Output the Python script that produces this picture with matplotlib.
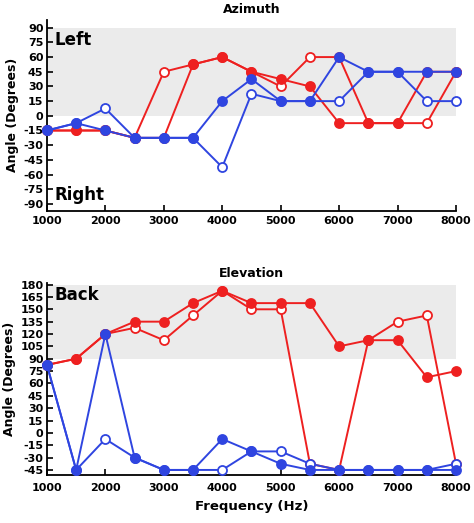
import numpy as np
import matplotlib.pyplot as plt

plt.rcParams['axes.unicode_minus'] = False

# frequencies (Hz)
freq = np.arange(1000, 8001, 500)

# azimuth responses (degrees)
az_red_filled = [-15, -15, -15, -22.5, -22.5, 52.5, 60, 45, 37.5, 30, -7.5, -7.5, -7.5, 45, 45]
az_red_open = [-15, -15, -15, -22.5, 45, 52.5, 60, 45, 30, 60, 60, -7.5, -7.5, -7.5, 45]
az_blue_filled = [-15, -7.5, -15, -22.5, -22.5, -22.5, 15, 37.5, 15, 15, 60, 45, 45, 45, 45]
az_blue_open = [-15, -7.5, 7.5, -22.5, -22.5, -22.5, -52.5, 22.5, 15, 15, 15, 45, 45, 15, 15]

# elevation responses (degrees)
el_red_filled = [82.5, 90, 120, 135, 135, 157.5, 172.5, 157.5, 157.5, 157.5, 105, 112.5, 112.5, 67.5, 75]
el_red_open = [82.5, 90, 120, 127.5, 112.5, 142.5, 172.5, 150, 150, -37.5, -45, 112.5, 135, 142.5, -37.5]
el_blue_filled = [82.5, -45, 120, -30, -45, -45, -7.5, -22.5, -37.5, -45, -45, -45, -45, -45, -45]
el_blue_open = [82.5, -45, -7.5, -30, -45, -45, -45, -22.5, -22.5, -37.5, -45, -45, -45, -45, -37.5]

red = '#ee2020'
blue = '#2f45e0'
shade = '#ebebeb'

fig = plt.figure(figsize=(4.74, 5.23), dpi=100)
ax1 = fig.add_axes([0.099, 0.597, 0.863, 0.365])
ax2 = fig.add_axes([0.099, 0.092, 0.863, 0.367])


def draw(ax, series):
    for vals, col, filled in series:
        ax.plot(freq, vals, color=col, lw=1.4, marker='o', ms=6.5,
                mfc=col if filled else 'white', mec=col, mew=1.3, clip_on=False, zorder=3)


def style(ax, yticks, ylim, xpad):
    ax.set_xlim(1000, 8000)
    ax.set_ylim(*ylim)
    ax.set_yticks(yticks)
    ax.set_xticks(range(1000, 8001, 1000))
    for s in ['top', 'right']:
        ax.spines[s].set_visible(False)
    for s in ['left', 'bottom']:
        ax.spines[s].set_linewidth(1.3)
    ax.tick_params(direction='in', length=4, width=1.2, labelsize=8, pad=2.5)
    ax.tick_params(axis='x', pad=xpad)
    for lab in ax.get_xticklabels() + ax.get_yticklabels():
        lab.set_fontweight('bold')
    ax.set_ylabel('Angle (Degrees)', fontsize=9, fontweight='bold', labelpad=3)


# Azimuth
ax1.axhspan(0, 90, color=shade, zorder=0, lw=0)
draw(ax1, [(az_red_open, red, False), (az_red_filled, red, True),
           (az_blue_open, blue, False), (az_blue_filled, blue, True)])
style(ax1, range(-90, 91, 15), (-97, 98), 4)
ax1.set_title('Azimuth', fontsize=9, fontweight='bold', pad=5)
ax1.text(1130, 77, 'Left', fontsize=12, fontweight='bold', va='center')
ax1.text(1130, -81, 'Right', fontsize=12, fontweight='bold', va='center')

# Elevation
ax2.axhspan(90, 180, color=shade, zorder=0, lw=0)
draw(ax2, [(el_red_open, red, False), (el_red_filled, red, True),
           (el_blue_open, blue, False), (el_blue_filled, blue, True)])
style(ax2, range(-45, 181, 15), (-51, 182), 6)
ax2.set_title('Elevation', fontsize=9, fontweight='bold', pad=4)
ax2.text(1130, 167, 'Back', fontsize=12, fontweight='bold', va='center')
ax2.set_xlabel('Frequency (Hz)', fontsize=9.5, fontweight='bold', labelpad=5)

fig.savefig('out.png', dpi=100)
